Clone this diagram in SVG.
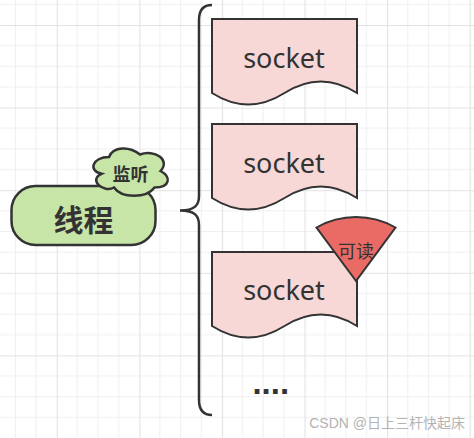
<svg xmlns="http://www.w3.org/2000/svg" width="474" height="438" viewBox="0 0 474 438">
  <defs>
    <pattern id="grid" x="56.7" y="25" width="82.6" height="82.6" patternUnits="userSpaceOnUse">
      <path d="M20.65,0V82.6M41.3,0V82.6M61.95,0V82.6M0,20.65H82.6M0,41.3H82.6M0,61.95H82.6" stroke="#efefef" stroke-width="1" fill="none"/>
      <path d="M0.5,0V82.6M0,0.5H82.6" stroke="#e2e2e2" stroke-width="1.2" fill="none"/>
    </pattern>
    <style>
      .green{fill:#c8e5a8;stroke:#333;stroke-width:2.5}
      .sock{fill:#f8d8d7;stroke:#333;stroke-width:2}
      .red{fill:#ea6b66;stroke:#333;stroke-width:2}
      .cjkb{font-family:"Noto Sans CJK SC",sans-serif;font-weight:bold;fill:#333;text-anchor:middle;dominant-baseline:central}
      .cjk{font-family:"Noto Sans CJK SC",sans-serif;fill:#333;text-anchor:middle;dominant-baseline:central}
      .lbl{font-family:"Noto Sans","Liberation Sans",sans-serif;font-size:27px;fill:#333;text-anchor:middle}
    </style>
  </defs>
  <rect width="474" height="438" fill="#ffffff"/>
  <rect width="474" height="438" fill="url(#grid)"/>

  <g id="brace">
    <path d="M212,5 C203,5 199,10 199,20 L199,196 C199,205 195,210.5 180,210.5 C195,210.5 199,216 199,225 L199,400 C199,410 203,415 212,415" fill="none" stroke="#333" stroke-width="2.5"/>
  </g>

  <g id="node-thread">
    <rect class="green" x="11.5" y="186" width="144" height="59" rx="24"/>
    <text class="cjkb" x="83.5" y="217.5" font-size="30">线程</text>
  </g>

  <g id="node-listen">
    <path class="green" d="M109,157 C92,157 88,171 101.5,173.8 C88,180 103.5,193.5 114,187.5 C121.5,198.5 146.5,198.5 154.5,187.5 C171,187.5 171,176.5 160.5,171 C171,160 154.5,149 140,154.5 C129.5,146 113,146 109,157 Z"/>
    <text class="cjkb" x="130.5" y="172.5" font-size="18">监听</text>
  </g>

  <g id="node-socket1">
    <path class="sock" d="M212,19 H357 V93 Q320.75,70 284.5,93 Q248.25,116 212,93 Z"/>
    <text class="lbl" x="284" y="68">socket</text>
  </g>

  <g id="node-socket2">
    <path class="sock" d="M212,124 H357 V198 Q320.75,175 284.5,198 Q248.25,221 212,198 Z"/>
    <text class="lbl" x="284" y="173">socket</text>
  </g>

  <g id="node-socket3">
    <path class="sock" d="M212,252 H357 V326 Q320.75,303 284.5,326 Q248.25,349 212,326 Z"/>
    <text class="lbl" x="284" y="300">socket</text>
  </g>

  <g id="node-readable">
    <path class="red" d="M356,281 L316.5,227.5 A80,80 0 0 1 395.5,227.5 Z"/>
    <text class="cjk" x="356" y="250" font-size="18">可读</text>
  </g>

  <g id="node-dots">
    <text x="270.8" y="394" font-family="Liberation Sans, sans-serif" font-weight="bold" font-size="33" fill="#333" text-anchor="middle">....</text>
  </g>

  <text x="465" y="428" font-family="Liberation Sans, Noto Sans CJK SC, sans-serif" font-size="14" fill="#b3b3b3" text-anchor="end">CSDN @日上三杆快起床</text>
</svg>
